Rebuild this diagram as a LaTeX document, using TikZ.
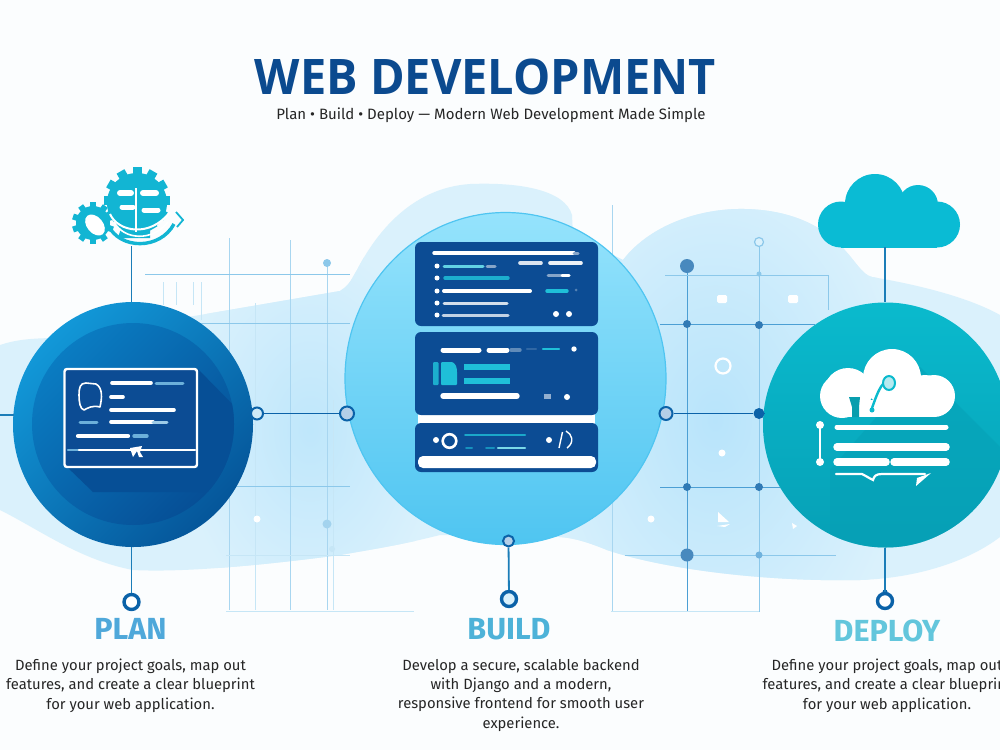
\documentclass[tikz,border=0pt]{standalone}
\usepackage{fontspec}
\setmainfont{Fira Sans}
\newfontfamily\titlefont{Open Sans}
\usetikzlibrary{shapes.geometric}
\definecolor{bgc}{HTML}{FBFDFE}
\definecolor{blobc}{HTML}{DAF1FC}
\definecolor{blobd}{HTML}{B8E4FB}
\definecolor{gridc}{HTML}{8CC8EA}
\definecolor{gridl}{HTML}{A8D6F0}
\definecolor{gridf}{HTML}{C6E6F6}
\definecolor{gridd}{HTML}{4C9FD4}
\definecolor{navy}{HTML}{0C4C94}
\definecolor{titlec}{HTML}{0B4A8F}
\definecolor{conn}{HTML}{1B7DB8}
\definecolor{connd}{HTML}{0B62A8}
\definecolor{teal}{HTML}{0ABBD4}
\definecolor{gearc}{HTML}{12B5D3}
\definecolor{cyanb}{HTML}{1FBFD8}
\definecolor{planA}{HTML}{1298D8}
\definecolor{planB}{HTML}{05569A}
\definecolor{planC}{HTML}{0A7CC2}
\definecolor{planD}{HTML}{064F96}
\definecolor{buildA}{HTML}{95E3FC}
\definecolor{buildB}{HTML}{4FC5F1}
\definecolor{depA}{HTML}{0ABACD}
\definecolor{depB}{HTML}{06A0B6}
\definecolor{ringf}{HTML}{B4CFE8}
\definecolor{hplan}{HTML}{4FA8DA}
\definecolor{hbuild}{HTML}{4DB2D8}
\definecolor{hdeploy}{HTML}{63C6DC}
\newcommand\hb[5][white]{\draw[line width=#5pt,line cap=round,#1] (#2,#4) -- (#3,#4);}
\newcommand\dt[3][white]{\fill[#1] (#2) circle[radius=#3];}
\tikzset{
  x=1pt,y=-1pt,
  bigcircle/.style={circle,inner sep=0pt,minimum size=#1},
  ringnode/.style={circle,inner sep=0pt,minimum size=#1,line width=2pt,draw=connd},
  bigring/.style={circle,inner sep=0pt,minimum size=15pt,line width=3.4pt,draw=connd,fill=white},
  gridline/.style={draw=gridc,line width=0.8pt},
  gridsoft/.style={draw=gridl,line width=0.8pt},
  faint/.style={draw=gridf,line width=0.7pt},
  strong/.style={draw=gridd,line width=1pt},
  connector/.style={draw=conn,line width=1.8pt},
  darkconn/.style={draw=connd,line width=1.8pt},
  navypanel/.style={fill=navy,rounded corners=6pt},
  head/.style={font=\fontsize{30.5}{33}\selectfont\bfseries,anchor=center},
  body/.style={font=\fontsize{14.8}{19.4}\selectfont,align=center,text=black!85,anchor=north},
}
\begin{document}
\begin{tikzpicture}
\useasboundingbox (0,0) rectangle (1000,750);
\fill[bgc] (0,0) rectangle (1000,750);
% background blobs
\begin{scope}
\path[save path=\blobpath] (0,345) .. controls (15,340) and (30,338) .. (60,338)
  -- (200,315) -- (340,291) .. controls (350,285) and (352,278) .. (357,270)
  .. controls (375,235) and (410,188) .. (470,184)
  .. controls (520,182) and (565,190) .. (572,215) -- (573,235)
  -- (623,260) .. controls (650,225) and (700,208) .. (745,209)
  .. controls (790,210) and (820,225) .. (840,245)
  .. controls (855,260) and (862,275) .. (872,277)
  .. controls (920,285) and (970,298) .. (1000,315)
  -- (1000,537) .. controls (970,560) and (920,578) .. (860,580)
  .. controls (760,582) and (660,568) .. (607,550)
  .. controls (590,543) and (575,538) .. (560,537)
  -- (440,535) .. controls (400,545) and (380,548) .. (340,555)
  .. controls (280,563) and (190,573) .. (133,570)
  .. controls (80,560) and (40,530) .. (0,510) -- cycle;
\fill[blobc,use path=\blobpath];
\clip[use path=\blobpath];
\shade[inner color=blobd,outer color=blobc] (715,420) ellipse[x radius=190,y radius=270];
\shade[inner color=blobd!80!blobc,outer color=blobc] (310,430) ellipse[x radius=130,y radius=190];
\end{scope}
% grid, left
\foreach \gx/\ga/\gb in {163/282/305,176/282/305,193/282/305,201/282/320,255/303/610,333/400/610}{
  \draw[faint] (\gx,\ga) -- (\gx,\gb);}
\draw[gridsoft] (229,238) -- (229,610);
\draw[gridsoft] (290,240) -- (290,610);
\draw[gridsoft] (327,262) -- (327,610);
\draw[gridline] (145,274) -- (350,274);
\draw[gridline] (200,323) -- (350,323);
\draw[gridline] (230,486) -- (350,486);
\draw[faint] (226,555) -- (350,555);
\draw[faint] (226,611) -- (414,611);
% grid, right
\draw[gridsoft] (612,205) -- (612,612);
\draw[strong] (687,266) -- (687,612);
\draw[gridline] (759,242) -- (759,612);
\draw[gridline] (665,275) -- (828,275) -- (828,310);
\draw[strong] (660,324) -- (815,324);
\draw[strong] (660,487) -- (780,487);
\draw[gridline] (625,555) -- (836,555);
\draw[faint] (611,611) -- (759,611);
% grid dots
\dt[connd!75!white]{687,266}{7}
\draw[gridc,fill=blobc,line width=1.2pt] (759,242) circle[radius=4.5];
\dt[gridc]{759,274}{2.5}
\dt[connd!85!white]{687,324}{4}
\dt[connd!85!white]{759,325}{4}
\dt[connd!85!white]{687,487}{4}
\dt[connd!85!white]{759,487}{4}
\dt[connd!75!white]{687,555}{6.5}
\dt[gridd!80!white]{759,555}{3.5}
\dt[gridc]{327,263}{4}
\dt[gridc!80!white]{327,524}{4.5}
\dt[gridf]{332,549}{3}
\dt{257,519}{3.5}
\dt{651,519}{3.5}
\dt{722,453}{3.5}
\fill[white,rounded corners=1.5pt] (717,295) rectangle (727,303);
\fill[white,rounded corners=1.5pt] (788,295) rectangle (798,303);
\draw[white,line width=2.2pt] (723,366) circle[radius=7.5];
\fill[white] (718,512) -- (729,522) -- (718,522) -- cycle;
\fill[white] (717,526) -- (730,524) -- (725,527) -- cycle;
\fill[white] (792,523) -- (797,526) -- (793,529) -- cycle;
% PLAN circle
\node[ellipse,inner sep=0pt,minimum width=240pt,minimum height=245pt,top color=planA,bottom color=planB,shading angle=45] (plan) at (133,424.5) {};
\begin{scope}
\clip (133,424) circle[radius=101];
\shade[top color=planC,bottom color=planD,shading angle=45] (133,424) circle[radius=101];
\fill[planD] (197,368) -- (240,412) -- (240,470) -- (213,492) -- (93,492) -- (65,465) -- cycle;
\end{scope}
\draw[white,line width=2.4pt,fill=navy,rounded corners=2.5pt] (64.5,369) rectangle (197,467);
\hb{112}{151}{383}{3.6}
\hb[planC!60!white]{156}{183}{383}{3}
\hb{111}{123}{397}{3.6}
\hb{111}{174}{410}{3.6}
\hb[planC!60!white]{80}{97}{422}{3}
\hb{111}{153}{422}{3.6}
\hb[planC!40!white]{153}{167}{422}{3}
\hb{78}{128}{436}{4.2}
\hb[planC!60!white]{134}{147}{436}{3.4}
\hb[planC!60!white]{68}{79}{450}{2.4}
\hb{79}{195}{450}{2.4}
\draw[white,line width=1.6pt,line join=round] (86,383) .. controls (80,383) and (79,388) .. (79,395)
  .. controls (79,402) and (80,409) .. (84,410) .. controls (88,408) and (92,405) .. (100,407)
  .. controls (102,398) and (103,388) .. (96,384) -- cycle;
\fill[white] (130,448) -- (142,446) -- (140,452) -- (143,457) -- (139,457) -- (137,451) -- (133,457) -- cycle;
% BUILD circle
\node[ellipse,inner sep=0pt,minimum width=321pt,minimum height=332pt,top color=buildA,bottom color=buildB,draw=buildB,line width=1.2pt] (build) at (505.5,378.5) {};
\fill[white] (418,413) rectangle (595,425);
\fill[navypanel] (415,242) rectangle (598,326);
\fill[navypanel] (415,332) rectangle (598,415);
\fill[navypanel] (415,423) rectangle (598,472);
% panel 1
\hb{434}{574}{253}{3.4}
\hb[navy!50!white]{574}{578}{253}{3}
\dt{437,266}{2.5}
\hb[cyanb!70!white]{444}{483}{266}{3}
\hb[navy!50!white]{487}{495}{266}{3}
\hb[white!85!navy]{520}{541}{263}{3.6}
\hb[white!92!navy]{550}{581}{263}{3.6}
\dt{437,278}{2.5}
\hb[cyanb!85!navy]{445}{508}{278}{3.4}
\hb[white!50!navy]{548}{562}{275}{3}
\hb{562}{569}{275}{3}
\dt{437,291}{2.5}
\hb{444}{530}{291}{4}
\hb[cyanb]{547}{567}{291}{3.4}
\dt[navy!70!white]{576,290}{1.5}
\dt{437,303}{2.5}
\hb[white!82!navy]{444}{507}{303}{3}
\dt{437,315}{2.5}
\hb[white!75!navy]{443}{508}{315}{3}
\dt{556,314}{3}
\dt{569,314}{3}
% panel 2
\hb{443}{479}{350}{5}
\hb{489}{507}{350}{5}
\hb[navy!65!white]{511}{520}{350}{3.4}
\hb[navy!85!white]{527}{536}{349}{2.4}
\hb[cyanb]{543}{559}{349}{2.4}
\dt{574,349}{2.7}
\fill[cyanb!85!navy,rounded corners=1pt] (433,362) rectangle (438.5,385);
\fill[cyanb,rounded corners=1pt] (441,362) -- (452,362) .. controls (456,364) and (457,368) .. (457,373) -- (457,385) -- (441,385) -- cycle;
\fill[cyanb] (464,364) rectangle (510,370);
\fill[cyanb] (464,378) rectangle (510,384);
\hb{443}{517}{396}{5.4}
\fill[navy!45!white] (544,394) rectangle (551,399);
\dt{567,397}{3}
% panel 3
\dt{436,440}{3}
\draw[white,line width=2.6pt] (449.5,441) circle[radius=6.8];
\hb[cyanb!80!navy]{465}{525}{435}{2}
\hb[cyanb!60!navy]{466}{472}{448}{2}
\hb[cyanb!60!navy]{486}{494}{448}{2}
\hb[cyanb!60!white]{498}{525}{448}{2.4}
\dt{549,440}{3}
\draw[white,line width=1.4pt] (559,448) -- (562.5,432);
\draw[white,line width=1.4pt] (566,431) .. controls (572,434) and (575,442) .. (567,448);
\fill[white,rounded corners=5pt] (418,456) rectangle (596,468);
% DEPLOY circle
\node[bigcircle=245pt,top color=depA,bottom color=depB] (deploy) at (885.5,425) {};
\begin{scope}
\clip (885.5,425) circle[radius=122.5];
\fill[depB,opacity=0.55] (920,367) -- (1015,462) -- (1015,560) -- (830,560) -- (830,470) -- cycle;
\end{scope}
\fill[white] (892,378) circle[radius=29];
\fill[white] (848,392) circle[radius=24];
\fill[white] (842,396) circle[radius=22];
\fill[white] (925,393) circle[radius=18];
\fill[white] (934,396) circle[radius=21];
\fill[white] (842,400) rectangle (934,417);
\fill[depA!85!black] (849,397) -- (860,397) -- (859,407) -- (859,417) -- (852,417) -- (852,407) -- cycle;
\draw[depA,line width=2.4pt,line cap=round] (872,408) .. controls (875,400) and (878,390) .. (883,384);
\draw[depA,line width=2pt,fill=white!70!depA] (889,383) ellipse[x radius=6,y radius=7];
\dt[depA]{872,410}{2.5}
\hb{837}{946}{427}{5}
\hb{837}{946}{447}{7.5}
\hb{837}{886}{462}{7.5}
\hb{894}{946}{462}{7.5}
\draw[white,line width=2pt] (820,425) -- (820,462);
\dt{820,425}{4}
\dt{820,462}{4}
\draw[white,line width=2.2pt,line cap=round] (836,474) -- (862,474) .. controls (866,476) and (869,478) .. (873,480) .. controls (874,476) and (876,474) .. (882,474) -- (925,474);
\fill[white] (931,473) -- (916,486) -- (917,478) -- cycle;
% top icons
\foreach \a in {0,30,...,330}{
  \fill[gearc,rotate around={\a:(137,200)}] (132.5,167) rectangle (141.5,176);}
\fill[gearc] (137,203) circle[radius=30];
\foreach \a in {0,36,...,324}{
  \fill[gearc,rotate around={\a:(93,223)}] (90,202) rectangle (96,210);}
\fill[gearc] (93,223) circle[radius=17];
\fill[white,rotate around={40:(95,225)}] (95,225) ellipse[x radius=8,y radius=12];
\fill[gearc] (125,215) -- (150,215) -- (150,238) -- (118,238) -- cycle;
\hb{120}{131}{193}{6}
\hb{143}{156}{193}{6}
\hb{122}{133}{207}{5}
\hb{144}{158}{210}{5}
\draw[white,line width=1.8pt] (136,188) -- (136,232);
\draw[white,line width=2pt] (110,214) .. controls (118,232) and (150,238) .. (170,212);
\draw[gearc,line width=3.4pt] (108,225) .. controls (120,250) and (160,250) .. (174,224);
\draw[white,line width=1.6pt] (114,222) .. controls (124,240) and (152,242) .. (168,222);
\draw[gearc,line width=1.8pt] (176,212) -- (183,220) -- (177,227);
% cloud over deploy
\fill[teal] (841,224.5) circle[radius=23];
\fill[teal] (937,224.5) circle[radius=23];
\fill[teal] (875,204) circle[radius=30];
\fill[teal] (918,205) circle[radius=20];
\fill[teal] (841,212) rectangle (937,247.5);
\coordinate (gear) at (131.5,246);
\coordinate (cloud) at (885,247);
\coordinate (stub) at (0,415);
% rings
\node[ringnode=12pt,fill=white!80!planA] (planR) at (257,413.5) {};
\node[ringnode=14pt,fill=ringf] (buildL) at (347,413.5) {};
\node[ringnode=13pt,fill=ringf] (buildR) at (666,413.5) {};
\node[ringnode=11pt,fill=ringf] (buildB) at (508.5,541) {};
\node[circle,inner sep=0pt,minimum size=11pt,fill=connd] (gridhub) at (759,413.5) {};
\node[bigring] (planE) at (131.5,602) {};
\node[bigring,fill=blobc] (buildE) at (509,599) {};
\node[bigring] (deployE) at (885,601) {};
\node[circle,inner sep=0pt,minimum size=5pt,fill=connd] (deployK) at (885,592) {};
% connectors
\draw[connector] (gear) -- (gear |- plan.north);
\draw[connector] (gear |- plan.south) -- (planE);
\draw[connector] (cloud) -- (cloud |- deploy.north);
\draw[connector] (cloud |- deploy.south) -- (deployE);
\draw[connector] (buildB) -- (buildE);
\draw[connector] (stub) -- (14,415);
\draw[darkconn] (planR) -- (buildL);
\draw[darkconn] (buildR) -- (gridhub);
\draw[darkconn] (gridhub) -- (764,413.5);
% text
\node[font=\fontsize{49}{54}\selectfont\titlefont\bfseries,text=titlec] (title) at (485.5,77) {\scalebox{0.957}[1]{WEB DEVELOPMENT}};
\node[font=\fontsize{15}{18}\selectfont,text=black!85] (sub) at (491,115) {Plan • Build • Deploy — Modern Web Development Made Simple};
\node[head,text=hplan] (lplan) at (130.5,629) {PLAN};
\node[head,text=hbuild] (lbuild) at (509,629) {BUILD};
\node[head,text=hdeploy] (ldeploy) at (887,631) {DEPLOY};
\node[body] (tplan) at (130.5,655.5) {Define your project goals, map out\\features, and create a clear blueprint\\for your web application.};
\node[body] (tbuild) at (521,655.5) {Develop a secure, scalable backend\\with Django and a modern,\\responsive frontend for smooth user\\experience.};
\node[body] (tdeploy) at (887,655.5) {Define your project goals, map out\\features, and create a clear blueprint\\for your web application.};
\end{tikzpicture}
\end{document}
